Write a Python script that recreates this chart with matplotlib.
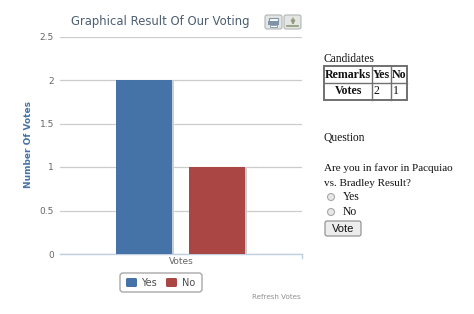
import matplotlib
matplotlib.use("Agg")
import matplotlib.pyplot as plt
from matplotlib.patches import Rectangle, FancyBboxPatch, Circle

W, H = 474, 314

series_names = ["Yes", "No"]
series_values = [2, 1]
series_colors = ["#4572A7", "#AA4643"]
category = "Votes"
y_ticks = [0, 0.5, 1, 1.5, 2, 2.5]
y_tick_labels = ["0", "0.5", "1", "1.5", "2", "2.5"]

table_rows = [["Remarks", "Yes", "No"], ["Votes", "2", "1"]]
question_lines = ["Are you in favor in Pacquiao", "vs. Bradley Result?"]

fig = plt.figure(figsize=(W / 100, H / 100), dpi=100)

# overlay in pixel coordinates, for the page parts around the chart
page = fig.add_axes([0, 0, 1, 1], zorder=5)
page.set_xlim(0, W)
page.set_ylim(H, 0)
page.axis("off")
page.patch.set_alpha(0)

ax = fig.add_axes([60 / W, 1 - 254 / H, 242 / W, 217.5 / H])
ax.set_xlim(-0.5, 0.5)
ax.set_ylim(0, 2.5)
ax.set_yticks(y_ticks)
ax.set_yticklabels(y_tick_labels, fontsize=6.5, color="#666666")
ax.set_xticks([0])
ax.set_xticklabels([category], fontsize=6.5, color="#666666")
ax.tick_params(axis="y", length=0, pad=4.3)
ax.tick_params(axis="x", length=0, pad=2.5)
ax.grid(axis="y", color="#CCCCCC", linewidth=0.9)
ax.set_axisbelow(True)
for s in ["top", "left", "right"]:
    ax.spines[s].set_visible(False)
ax.spines["bottom"].set_color("#C0D0E0")
ax.spines["bottom"].set_linewidth(1)

offsets = [-0.153, 0.149]
bar_w = 0.2314
for i in range(2):
    # light shadow next to the bar
    ax.bar(offsets[i] + 0.008, series_values[i], bar_w, color="#C9CED3", zorder=2)
    ax.bar(offsets[i], series_values[i], bar_w, color=series_colors[i], zorder=3)

page.plot([302, 302], [254, 258], color="#C0D0E0", lw=1)
page.text(160, 21, "Graphical Result Of Our Voting", fontsize=8.4, color="#4D5F73",
          ha="center", va="center")
page.text(29, 145, "Number Of Votes", fontsize=6.5, color="#4572A7", rotation=90,
          ha="center", va="center", fontweight="bold")

# export buttons
for x0 in [265, 284]:
    page.add_patch(FancyBboxPatch((x0, 15), 17, 14, boxstyle="round,pad=0,rounding_size=2",
                                  fc="#E4E6E4", ec="#B0B4B8", lw=0.8))
page.add_patch(Rectangle((269, 18), 9, 3, fc="white", ec="#7F94A8", lw=0.8))
page.add_patch(Rectangle((268, 21), 11, 3.5, fc="#7F94A8", ec="none"))
page.add_patch(Rectangle((270, 24.5), 7, 2, fc="white", ec="#7F94A8", lw=0.6))
page.plot([287.5, 298.5], [26, 26], color="#8E9A78", lw=1.2)
page.annotate("", xy=(293, 25), xytext=(293, 18),
              arrowprops=dict(arrowstyle="-|>", color="#8E9A78", lw=1, mutation_scale=6,
                              shrinkA=0, shrinkB=0))

# legend
page.add_patch(FancyBboxPatch((120, 273), 82, 19, boxstyle="round,pad=0,rounding_size=3",
                              fc="white", ec="#A8A8A8", lw=1))
for lx, tx, c, name in zip([126, 166], [141, 182], series_colors, series_names):
    page.add_patch(FancyBboxPatch((lx, 278), 11, 9, boxstyle="round,pad=0,rounding_size=1.5",
                                  fc=c, ec="none"))
    page.text(tx, 282.5, name, fontsize=7, color="#4D4D4D", va="center")

page.text(301, 297, "Refresh Votes", fontsize=5.1, color="#909090", ha="right", va="center")

# page on the right
serif = "Liberation Serif"
fs = 8.0
fs_table = 8.6
page.text(324, 59, "Candidates", fontsize=8.3, family=serif, color="#111111", va="center")

col_x = [324.5, 372, 391, 407]
row_y = [66, 83, 100]
page.add_patch(Rectangle((324.5, 66), 82.5, 34, fc="none", ec="#707070", lw=1.4))
for x in col_x[1:3]:
    page.plot([x, x], [66, 100], color="#707070", lw=1)
page.plot([324.5, 407], [83, 83], color="#707070", lw=1)
for r in range(2):
    for c in range(3):
        cy = (row_y[r] + row_y[r + 1]) / 2
        txt = table_rows[r][c]
        bold = r == 0 or c == 0
        if r == 1 and c > 0:
            page.text(col_x[c] + 2, cy, txt, fontsize=fs_table, family=serif, color="#111111",
                      ha="left", va="center")
        else:
            page.text((col_x[c] + col_x[c + 1]) / 2, cy, txt, fontsize=fs_table, family=serif,
                      color="#111111", ha="center", va="center",
                      fontweight="bold" if bold else "normal")

page.text(324, 138, "Question", fontsize=8.3, family=serif, color="#111111", va="center")
for y, line in zip([168, 184], question_lines):
    page.text(324, y, line, fontsize=fs, family=serif, color="#111111", va="center")

for y, name in zip([197, 212], series_names):
    page.add_patch(Circle((331, y), 3.5, fc="#E8E8E8", ec="#A8A8A8", lw=0.8))
    page.text(343, y, name, fontsize=8.4, family=serif, color="#111111", va="center")

page.add_patch(FancyBboxPatch((325, 221), 36, 15, boxstyle="round,pad=0,rounding_size=2",
                              fc="#EDEDED", ec="#8A8A8A", lw=0.8))
page.text(343, 228.5, "Vote", fontsize=8, family="Liberation Sans", color="#111111",
          ha="center", va="center")

fig.savefig("out.png", dpi=100)
